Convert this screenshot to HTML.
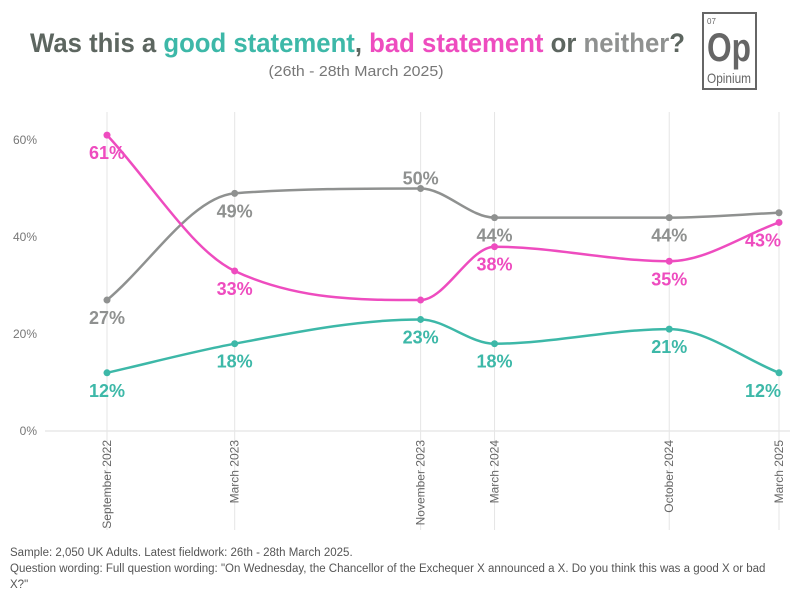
<!DOCTYPE html>
<html><head><meta charset="utf-8"><style>
body{margin:0;background:#fff;}
svg{display:block;font-family:"Liberation Sans Narrow","Liberation Sans",sans-serif;}
</style></head><body>
<svg id="chart" width="800" height="600" viewBox="0 0 800 600">
<text x="30" y="52" font-size="27" font-weight="bold" textLength="655" lengthAdjust="spacingAndGlyphs" fill="#5d6660">Was this a <tspan fill="#3db8a8">good statement</tspan>, <tspan fill="#ee4cbf">bad statement</tspan> or <tspan fill="#8f9190">neither</tspan>?</text>
<text x="356" y="76" font-size="15" text-anchor="middle" fill="#777" textLength="175" lengthAdjust="spacingAndGlyphs">(26th - 28th March 2025)</text>
<g>
<rect x="703" y="13" width="53" height="76" fill="none" stroke="#666" stroke-width="2"/>
<text x="707" y="24" font-size="8" fill="#666">07</text>
<text x="729" y="61" font-size="40" font-weight="bold" text-anchor="middle" fill="#666" textLength="44" lengthAdjust="spacingAndGlyphs">Op</text>
<text x="729" y="83" font-size="14" text-anchor="middle" fill="#666" textLength="44" lengthAdjust="spacingAndGlyphs">Opinium</text>
</g>
<g id="plot"></g>
<text x="10" y="556" font-size="11.5" fill="#555">Sample: 2,050 UK Adults. Latest fieldwork: 26th - 28th March 2025.</text>
<text x="10" y="572" font-size="11.5" fill="#555">Question wording: Full question wording: "On Wednesday, the Chancellor of the Exchequer X announced a X. Do you think this was a good X or bad</text>
<text x="10" y="588" font-size="11.5" fill="#555">X?"</text>
</svg>
<script>
const categories=["September 2022","March 2023","November 2023","March 2024","October 2024","March 2025"];
const catMonths=[0,5.7,14,17.3,25.1,30];
const goodVals=[12,18,23,18,21,12];
const badVals=[61,33,27,38,35,43];
const neitherVals=[27,49,50,44,44,45];
const yTicks=[0,20,40,60];
const NS="http://www.w3.org/2000/svg";
const g=document.getElementById('plot');
const x=m=>107+m*(779-107)/30;
const y=v=>431-v*4.85;
function mk(t,a,p){const e=document.createElementNS(NS,t);for(const k in a)e.setAttribute(k,a[k]);(p||g).appendChild(e);return e;}
yTicks.forEach(t=>{
 const l=mk('line',{x1:45,x2:790,y1:y(t),y2:y(t),stroke:t===0?'#ddd':'#fff','stroke-width':1});
 
 
 const tx=mk('text',{x:37,y:y(t)+4,'font-size':12,'text-anchor':'end',fill:'#777'});
 tx.textContent=t+'%';
 
 
});
categories.forEach((c,i)=>{
 const xx=x(catMonths[i]);
 const l=mk('line',{x1:xx,x2:xx,y1:112,y2:530,stroke:'#e6e6e6'});
 
 
 const t=mk('text',{transform:`translate(${xx+4},440) rotate(-90)`,'font-size':12,'text-anchor':'end',fill:'#666'});
 t.textContent=c;
 
 
});
function monoPath(px,py){
 const n=px.length,d=[],m=[];
 for(let i=0;i<n-1;i++)d.push((py[i+1]-py[i])/(px[i+1]-px[i]));
 for(let i=0;i<n;i++){
  if(i===0)m.push(d[0]);else if(i===n-1)m.push(d[n-2]);
  else if(d[i-1]*d[i]<=0)m.push(0);
  else{const h0=px[i]-px[i-1],h1=px[i+1]-px[i];let v=(d[i-1]*h1+d[i]*h0)/(h0+h1);const lim=3*Math.min(Math.abs(d[i-1]),Math.abs(d[i]));if(Math.abs(v)>lim)v=Math.sign(v)*lim;m.push(v);}
 }
 let s=`M${px[0]},${py[0]}`;
 for(let i=0;i<n-1;i++){const h=(px[i+1]-px[i])/3;s+=` C${px[i]+h},${py[i]+m[i]*h} ${px[i+1]-h},${py[i+1]-m[i+1]*h} ${px[i+1]},${py[i+1]}`;}
 return s;
}
const series=[
 {name:'neither',vals:neitherVals,color:'#8f9190',hide:[5],above:[2]},
 {name:'good',vals:goodVals,color:'#3db8a8',hide:[],above:[]},
 {name:'bad',vals:badVals,color:'#ee4cbf',hide:[2],above:[]}
];
series.forEach(s=>{
 const px=catMonths.map(x),py=s.vals.map(y);
 const p=mk('path',{d:monoPath(px,py),fill:'none',stroke:s.color,'stroke-width':2.5});
 
 
 s.vals.forEach((v,i)=>{
  const c=mk('circle',{cx:px[i],cy:py[i],r:3.5,fill:s.color});
  
  
  if(s.hide.includes(i))return;
  const last=i===categories.length-1;
  const t=mk('text',{x:last?px[i]+2:px[i],y:s.above.includes(i)?py[i]-4:py[i]+24,'font-size':18,'font-weight':'bold','text-anchor':last?'end':'middle',fill:s.color});
  t.textContent=v+'%';
  
  
 });
});
</script>
</body></html>
